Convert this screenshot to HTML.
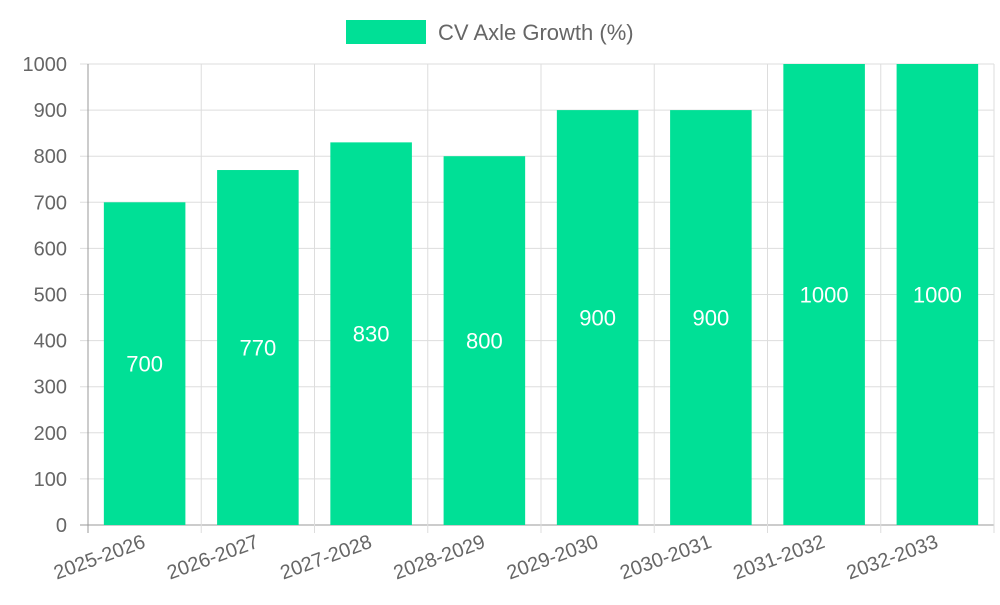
<!DOCTYPE html>
<html><head><meta charset="utf-8"><style>
body{margin:0;background:#fff;}
svg text{font-family:"Liberation Sans",sans-serif;}
</style></head><body>
<svg id="chart" width="1000" height="600" xmlns="http://www.w3.org/2000/svg">
<g id="legend">
<rect x="346" y="20" width="80" height="24" fill="#00e096"/>
<text x="438" y="40" font-size="22" fill="#666">CV Axle Growth (%)</text>
</g>
<g id="grid"></g><g id="bars"></g><g id="labels"></g>
</svg>
<script>
const categories=["2025-2026","2026-2027","2027-2028","2028-2029","2029-2030","2030-2031","2031-2032","2032-2033"];
const values=[700,770,830,800,900,900,1000,1000];
const yTicks=[0,100,200,300,400,500,600,700,800,900,1000];
const NS="http://www.w3.org/2000/svg";
const L=88,R=994,T=64,B=525,yMax=1000;
const bw=(R-L)/categories.length;
const y=v=>B-(v/yMax)*(B-T);
const x=i=>L+i*bw;
function mk(tag,attrs,parent){const e=document.createElementNS(NS,tag);for(const k in attrs)e.setAttribute(k,attrs[k]);parent.appendChild(e);return e;}
const grid=document.getElementById('grid'),bars=document.getElementById('bars'),labels=document.getElementById('labels');
yTicks.forEach(t=>{
 const ln=mk('line',{x1:L-8,x2:R,y1:y(t),y2:y(t),stroke:t===0?'#999':'#ddd','stroke-width':1},grid);
 
 
 const tx=mk('text',{x:67,y:y(t)+7,'font-size':20,fill:'#666','text-anchor':'end'},grid);
 tx.textContent=t;
 
 
});
for(let i=0;i<=categories.length;i++){
 const ln=mk('line',{x1:x(i),x2:x(i),y1:T,y2:B+8,stroke:i===0?'#999':'#ddd','stroke-width':1},grid);
 
 
}
categories.forEach((c,i)=>{
 const v=values[i];
 const w=bw*0.72, cx=x(i)+bw/2;
 const r=mk('rect',{x:cx-w/2,y:y(v),width:w,height:B-y(v),fill:'#00e096'},bars);
 
 
 const vt=mk('text',{x:cx,y:(y(v)+B)/2+8,'font-size':22,fill:'#fff','text-anchor':'middle'},labels);
 vt.textContent=v;
 
 
 const ex=x(i)+bw/2+2, ey=B+22;
 const ct=mk('text',{x:ex,y:ey,'font-size':20,fill:'#666','text-anchor':'end',transform:`rotate(-20 ${ex} ${ey})`},labels);
 ct.textContent=c;
 
 
});
</script>
</body></html>
